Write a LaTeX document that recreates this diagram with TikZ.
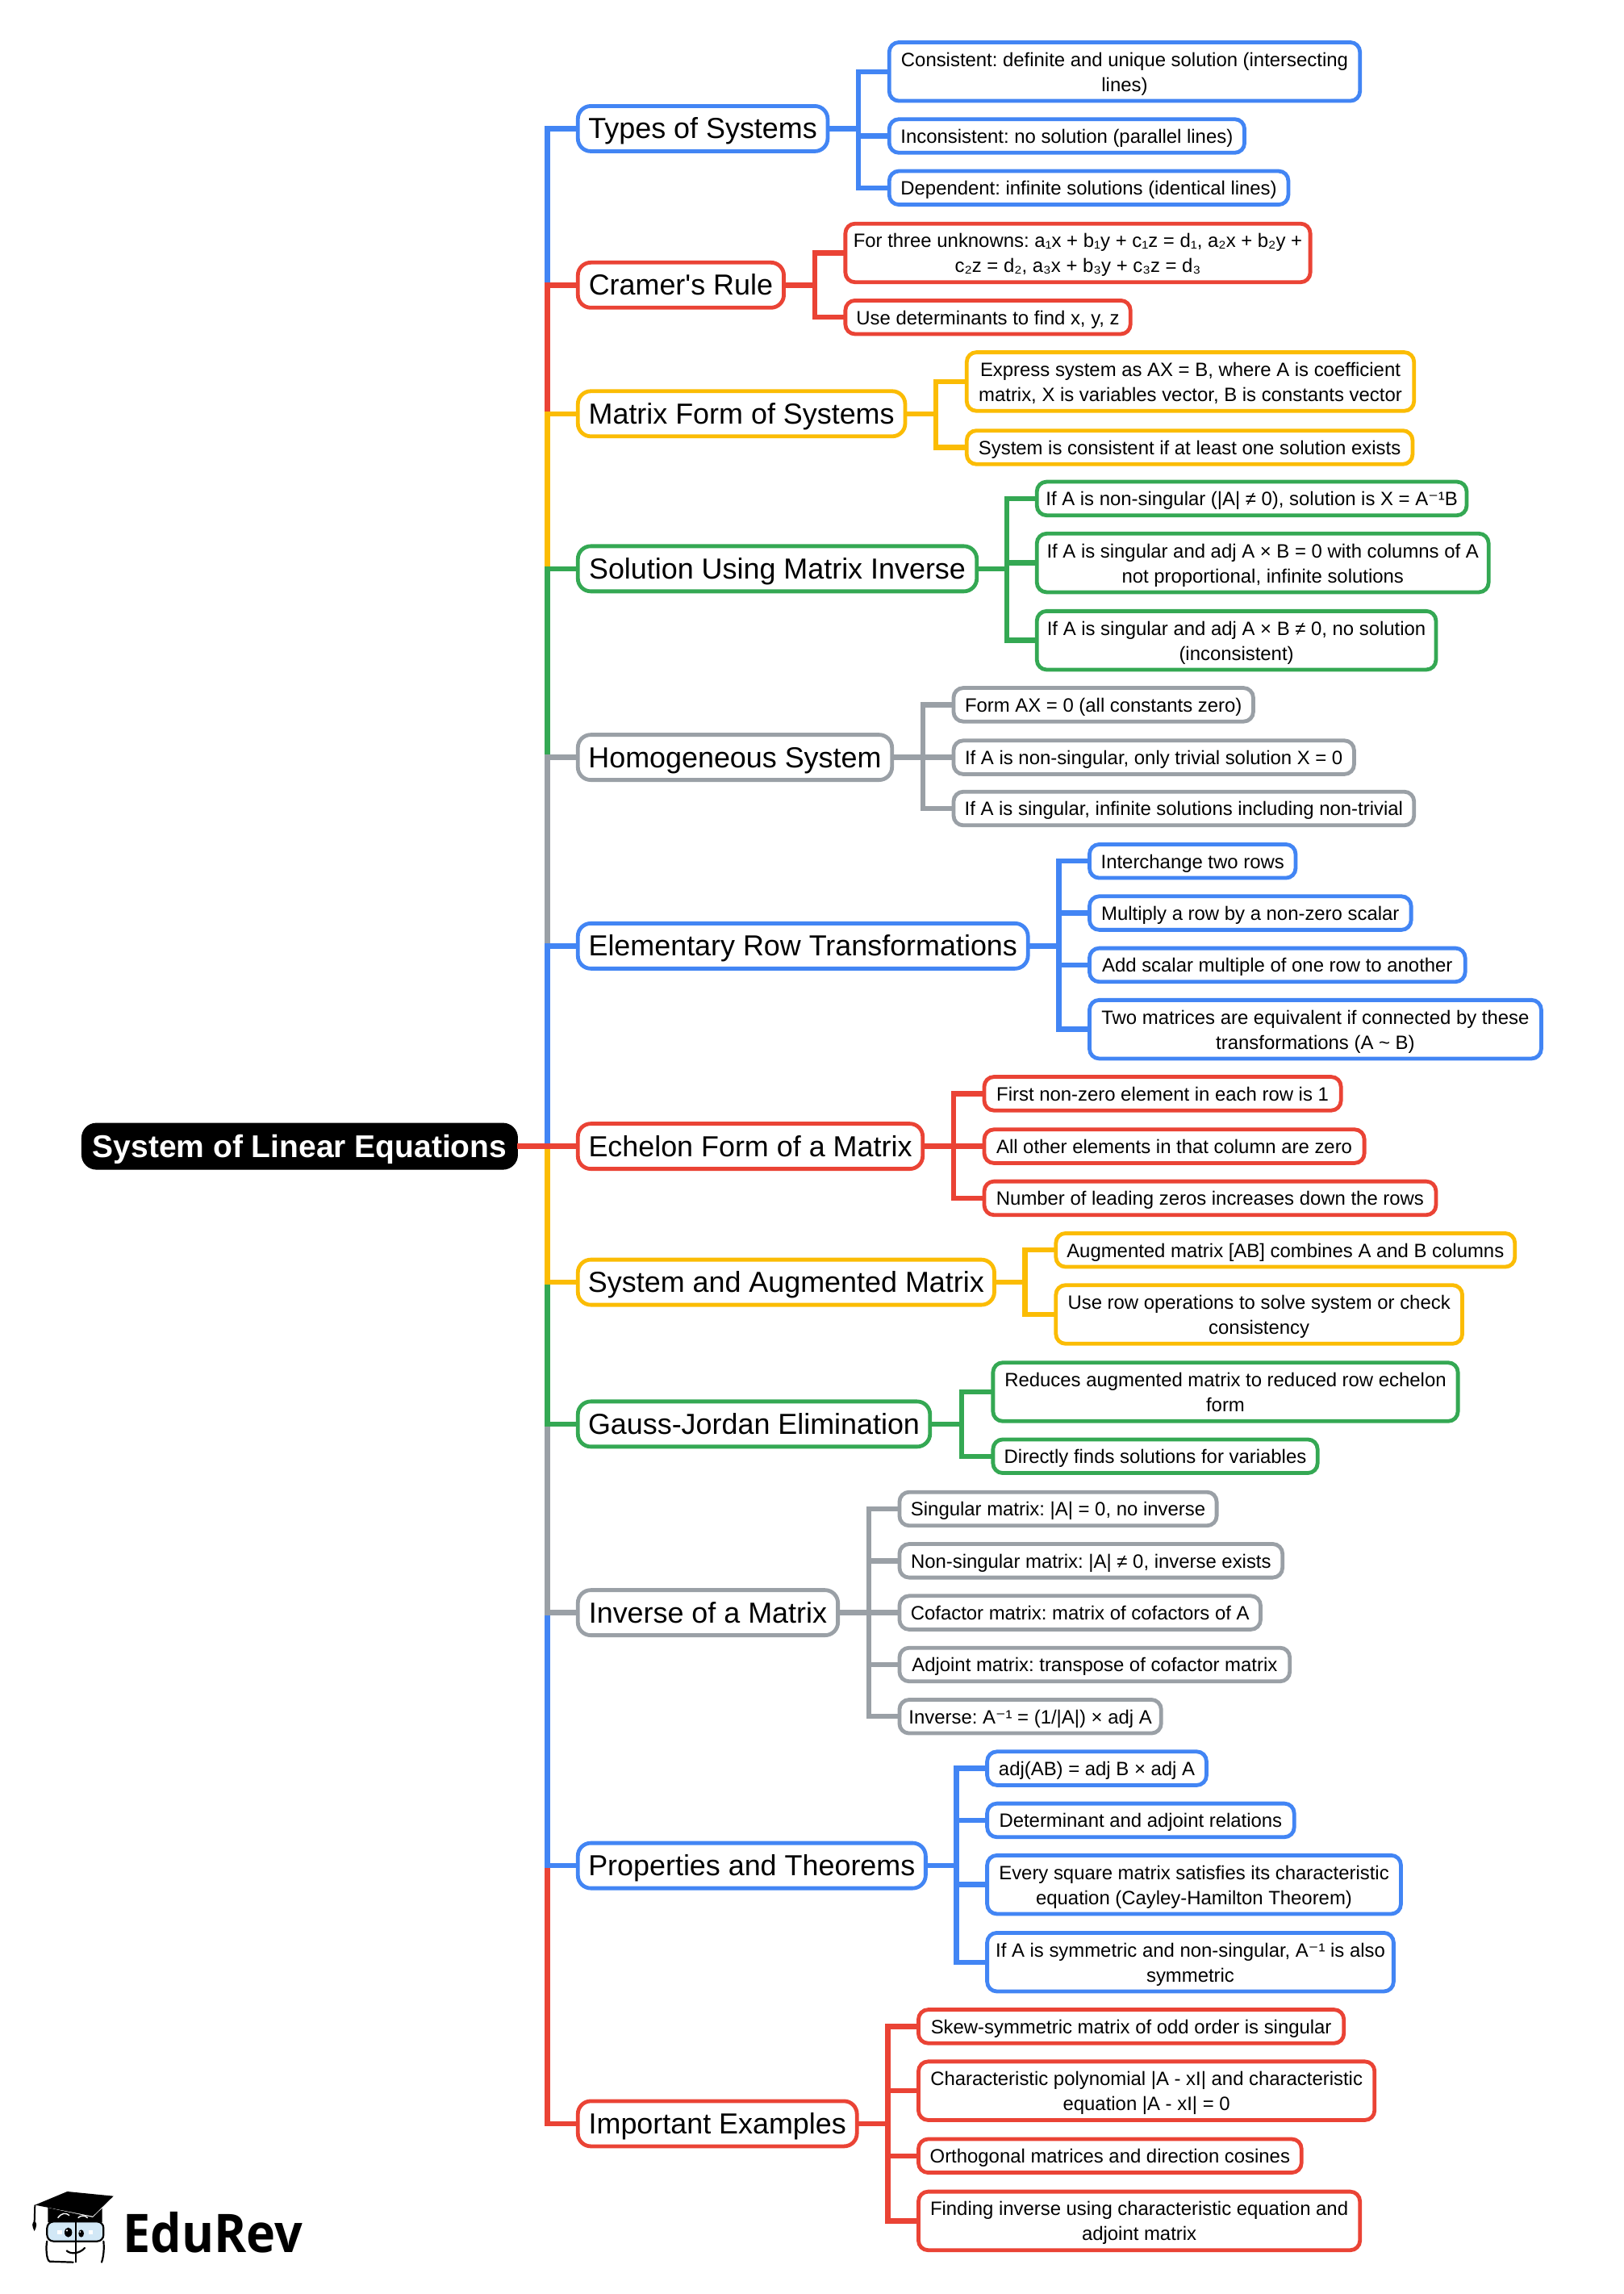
\documentclass[tikz,border=0pt]{standalone}
\usepackage{fontspec}
\setmainfont[Ligatures=TeXOff]{Liberation Sans}
\newfontfamily\logofont[FakeStretch=0.925]{Open Sans}
\newfontfamily\symfont{DejaVu Sans}
\usetikzlibrary{calc}
\definecolor{cblue}{HTML}{4285F4}
\definecolor{cred}{HTML}{EA4335}
\definecolor{cyel}{HTML}{FBBC04}
\definecolor{cgrn}{HTML}{34A853}
\definecolor{cgry}{HTML}{9AA0A6}
\definecolor{lens}{HTML}{D2E8F6}
\newcommand\supminus{{\symfont ⁻}}
\tikzset{
  plainbox/.style={rectangle,fill=white,inner sep=0pt,outer sep=0pt,text=black},
  boxbase/.style={plainbox,align=center,
    execute at begin node={\frenchspacing\strut},execute at end node={\strut}},
  leafbox/.style={boxbase,line width=2.4pt,rounded corners=6pt,
    execute at begin node={\rule{0pt}{13.6pt}},
    font=\fontsize{11.95}{15.5}\selectfont},
  leaftwobox/.style={plainbox,line width=2.4pt,rounded corners=6pt,
    font=\fontsize{11.95}{15.5}\selectfont},
  branchbox/.style={boxbase,line width=2.4pt,rounded corners=8pt,minimum height=28pt,
    execute at begin node={\rule{0pt}{19pt}},
    font=\fontsize{17.95}{22}\selectfont},
  rootbox/.style={boxbase,fill=black,draw=black,text=white,line width=0.5pt,rounded corners=9pt,
    minimum height=28.5pt,execute at begin node={\rule{0pt}{20.8pt}},
    font=\bfseries\fontsize{19.5}{22}\selectfont},
  conn/.style={line width=3.2pt,line join=miter,line cap=butt}
}
% #1 name #2 colour #3 left #4 right #5 centre y #6 text
\newcommand\leafone[6]{\node[leafbox,draw=#2,anchor=west,minimum height=20.8pt,
  minimum width={(#4-#3)*0.906pt}] (#1) at ({#3+0.3},{-(#5)}) {#6};}
\newcommand\leaftwo[6]{\node[leaftwobox,draw=#2,anchor=west,minimum height=36.3pt,
  minimum width={(#4-#3)*0.906pt}] (#1) at ({#3+0.3},{-(#5)})
  {\frenchspacing\raisebox{3.25pt}[0pt][0pt]{\begin{tabular}[t]{@{}c@{}}#6\end{tabular}}};}
\newcommand\branch[5]{\node[branchbox,draw=#2,anchor=west,
  minimum width={(#3-395)*0.906pt-1pt}] (#1) at (395.3,{-(#4)}) {#5};}
\newcommand\toleaf[3]{\draw[conn,draw=#1] (#2.east) -- ($(#2.east)!.5!(#2.east -| #3.west)$) |- (#3.west);}
\newcommand\totrunk[2]{\draw[conn,draw=#1] (root.east) -- (root.east -| trunk) |- (#2.west);}
\begin{document}
\begin{tikzpicture}[x=0.906pt,y=0.906pt]
\useasboundingbox (0,0) rectangle (1110.93,-1569);
\fill[white] (0,0) rectangle (1110.93,-1569);

\node[rootbox,anchor=west,minimum width={298*0.906pt}] (root) at (56,-784) {System of Linear Equations};
\coordinate (trunk) at (374.5,0);

\branch{b1}{cblue}{567}{88}{Types of Systems}
\branch{b2}{cred}{537}{195}{Cramer's Rule}
\branch{b3}{cyel}{620}{283}{Matrix Form of Systems}
\branch{b4}{cgrn}{669}{389}{Solution Using Matrix Inverse}
\branch{b5}{cgry}{611}{518}{Homogeneous System}
\branch{b6}{cblue}{704}{647}{Elementary Row Transformations}
\branch{b7}{cred}{632}{784}{Echelon Form of a Matrix}
\branch{b8}{cyel}{681}{877}{System and Augmented Matrix}
\branch{b9}{cgrn}{637}{974}{Gauss-Jordan Elimination}
\branch{b10}{cgry}{574}{1103}{Inverse of a Matrix}
\branch{b11}{cblue}{634}{1276}{Properties and Theorems}
\branch{b12}{cred}{587}{1452.5}{Important Examples}

\leaftwo{l11}{cblue}{608}{930}{49}{Consistent: definite and unique solution (intersecting\\lines)}
\leafone{l12}{cblue}{608}{851}{93}{Inconsistent: no solution (parallel lines)}
\leafone{l13}{cblue}{608}{881}{128.5}{Dependent: infinite solutions (identical lines)}

\leaftwo{l21}{cred}{578}{896}{173}{For three unknowns: a₁x + b₁y + c₁z = d₁, a₂x + b₂y +\\c₂z = d₂, a₃x + b₃y + c₃z = d₃}
\leafone{l22}{cred}{578}{773}{217}{Use determinants to find x, y, z}

\leaftwo{l31}{cyel}{661}{967}{261}{Express system as AX = B, where A is coefficient\\matrix, X is variables vector, B is constants vector}
\leafone{l32}{cyel}{661}{966}{306}{System is consistent if at least one solution exists}

\leafone{l41}{cgrn}{709}{1003}{341}{If A is non-singular (|A| ≠ 0), solution is X = A\supminus¹B}
\leaftwo{l42}{cgrn}{709}{1018}{385}{If A is singular and adj A × B = 0 with columns of A\\not proportional, infinite solutions}
\leaftwo{l43}{cgrn}{709}{982}{438}{If A is singular and adj A × B ≠ 0, no solution\\(inconsistent)}

\leafone{l51}{cgry}{652}{857}{482}{Form AX = 0 (all constants zero)}
\leafone{l52}{cgry}{652}{926}{518}{If A is non-singular, only trivial solution X = 0}
\leafone{l53}{cgry}{652}{967}{553}{If A is singular, infinite solutions including non-trivial}

\leafone{l61}{cblue}{745}{886}{589}{Interchange two rows}
\leafone{l62}{cblue}{745}{965}{624.5}{Multiply a row by a non-zero scalar}
\leafone{l63}{cblue}{745}{1002}{660}{Add scalar multiple of one row to another}
\leaftwo{l64}{cblue}{745}{1054}{704}{Two matrices are equivalent if connected by these\\transformations (A \char126{} B)}

\leafone{l71}{cred}{673}{917}{748}{First non-zero element in each row is 1}
\leafone{l72}{cred}{673}{933}{784}{All other elements in that column are zero}
\leafone{l73}{cred}{673}{982}{819.5}{Number of leading zeros increases down the rows}

\leafone{l81}{cyel}{722}{1036}{855}{Augmented matrix [AB] combines A and B columns}
\leaftwo{l82}{cyel}{722}{1000}{899}{Use row operations to solve system or check\\consistency}

\leaftwo{l91}{cgrn}{679}{997}{952}{Reduces augmented matrix to reduced row echelon\\form}
\leafone{l92}{cgrn}{679}{901}{996}{Directly finds solutions for variables}

\leafone{l101}{cgry}{615}{832}{1032}{Singular matrix: |A| = 0, no inverse}
\leafone{l102}{cgry}{615}{877}{1067.5}{Non-singular matrix: |A| ≠ 0, inverse exists}
\leafone{l103}{cgry}{615}{862}{1103}{Cofactor matrix: matrix of cofactors of A}
\leafone{l104}{cgry}{615}{882}{1138.5}{Adjoint matrix: transpose of cofactor matrix}
\leafone{l105}{cgry}{615}{794}{1174}{Inverse: A\supminus¹ = (1/|A|) × adj A}

\leafone{l111}{cblue}{675}{825}{1209.5}{adj(AB) = adj B × adj A}
\leafone{l112}{cblue}{675}{885}{1245}{Determinant and adjoint relations}
\leaftwo{l113}{cblue}{675}{958}{1289}{Every square matrix satisfies its characteristic\\equation (Cayley-Hamilton Theorem)}
\leaftwo{l114}{cblue}{675}{953}{1342}{If A is symmetric and non-singular, A\supminus¹ is also\\symmetric}

\leafone{l121}{cred}{628}{919}{1386}{Skew-symmetric matrix of odd order is singular}
\leaftwo{l122}{cred}{628}{940}{1430}{Characteristic polynomial |A - xI| and characteristic\\equation |A - xI| = 0}
\leafone{l123}{cred}{628}{890}{1474.5}{Orthogonal matrices and direction cosines}
\leaftwo{l124}{cred}{628}{930}{1519}{Finding inverse using characteristic equation and\\adjoint matrix}

% trunk: outermost branches first so that nearer ones lie on top
\totrunk{cblue}{b1}
\totrunk{cred}{b2}
\totrunk{cyel}{b3}
\totrunk{cgrn}{b4}
\totrunk{cgry}{b5}
\totrunk{cblue}{b6}
\totrunk{cred}{b12}
\totrunk{cblue}{b11}
\totrunk{cgry}{b10}
\totrunk{cgrn}{b9}
\totrunk{cyel}{b8}
\totrunk{cred}{b7}

\foreach \c/\p/\k in {cblue/b1/l11,cblue/b1/l12,cblue/b1/l13,
  cred/b2/l21,cred/b2/l22,
  cyel/b3/l31,cyel/b3/l32,
  cgrn/b4/l41,cgrn/b4/l42,cgrn/b4/l43,
  cgry/b5/l51,cgry/b5/l52,cgry/b5/l53,
  cblue/b6/l61,cblue/b6/l62,cblue/b6/l63,cblue/b6/l64,
  cred/b7/l71,cred/b7/l72,cred/b7/l73,
  cyel/b8/l81,cyel/b8/l82,
  cgrn/b9/l91,cgrn/b9/l92,
  cgry/b10/l101,cgry/b10/l102,cgry/b10/l103,cgry/b10/l104,cgry/b10/l105,
  cblue/b11/l111,cblue/b11/l112,cblue/b11/l113,cblue/b11/l114,
  cred/b12/l121,cred/b12/l122,cred/b12/l123,cred/b12/l124}
  {\toleaf{\c}{\p}{\k}}

% logo, drawn directly (units: 1 = a third of a reference pixel)
\begin{scope}[shift={(0,-1462.47)},x=0.16667pt,y=-0.16667pt]
  \fill[black] (130,248) -- (250,198) -- (422,215) -- (345,290) -- cycle;
  \fill[black] (178,258) -- (345,294) -- (380,260) -- (380,312) -- (178,312) -- cycle;
  \draw[black,line width=1pt] (130,248) -- (128,312);
  \fill[black] (128,308) .. controls (118,315) and (118,325) .. (128,345) .. controls (138,325) and (138,315) .. (128,308) -- cycle;
  \draw[white,line width=0.7pt] (215,296) .. controls (228,278) and (245,275) .. (258,287);
  \draw[white,line width=0.7pt] (290,296) .. controls (300,286) and (315,285) .. (326,296);
  \draw[black,line width=1.1pt,fill=lens,rounded corners=4pt] (175,310) rectangle (385,383);
  \draw[black,line width=1.1pt,line cap=round] (175,383) .. controls (170,400) and (172,455) .. (185,458) -- (272,461);
  \draw[black,line width=1.1pt,line cap=round] (385,383) .. controls (388,410) and (385,440) .. (378,461);
  \draw[black,line width=1.3pt] (282,310) -- (282,462);
  \fill[black] (254,350) ellipse [x radius=14,y radius=18];
  \fill[black] (302,354) ellipse [x radius=10,y radius=14];
  \fill[white] (249,343) circle (3.5);
  \fill[white] (298,348) circle (3);
  \fill[white] (214,342) rectangle (230,356);
  \fill[white] (330,342) rectangle (346,356);
  \draw[black,line width=1.1pt,line cap=round] (248,418) .. controls (262,432) and (295,430) .. (315,408);
  \node[anchor=base west,inner sep=0pt,text=black,font=\logofont\bfseries\fontsize{33}{36}\selectfont] (logo) at (456,423) {EduRev};
\end{scope}
\end{tikzpicture}
\end{document}
